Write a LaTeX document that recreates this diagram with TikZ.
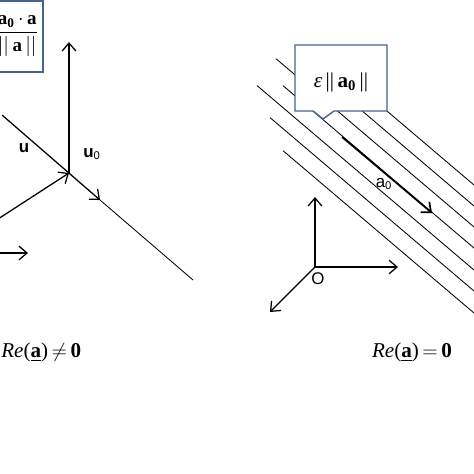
\documentclass[tikz,border=0pt]{standalone}
\usepackage{amsmath}
\usepackage{fontspec}
\setmainfont{Liberation Serif}
\setsansfont{Liberation Sans}
\usetikzlibrary{arrows.meta}
\definecolor{boxblue}{RGB}{70,100,140}
\newcommand{\bigtext}{\fontsize{15}{18}\selectfont}
\tikzset{
    vec/.style={-{Straight Barb[length=2mm,width=3.4mm]}, line width=0.9pt},
    thinline/.style={line width=0.6pt},
    callout/.style={draw=boxblue, line width=1pt, fill=white},
    lbl/.style={font=\sffamily\fontsize{12}{14}\selectfont}
}
\begin{document}
\begin{tikzpicture}[x=0.025cm, y=-0.025cm]
    \useasboundingbox (0,0) rectangle (474,474);
    \clip (0,0) rectangle (474,474);

    % left panel
    \coordinate (P) at (69,173);
    \coordinate (Ustart) at (2,115);
    \coordinate (Utip) at (100,200);
    \coordinate (Uend) at (193,280);
    \coordinate (Uzero) at (69,42);
    \coordinate (Oleft) at (-2,219);
    \coordinate (Xleft) at (-20,253);
    \coordinate (Xtip) at (28,253);
    \draw[thinline] (Utip) -- (Uend);
    \draw[vec] (Ustart) -- (Utip);
    \draw[vec] (P) -- (Uzero);
    \draw[vec] (Oleft) -- (P);
    \draw[vec] (Xleft) -- (Xtip);
    \node[lbl] (u) at (24,148) {\textbf{u}};
    \node[lbl] (uzero) at (92,154) {\textbf{u}$_{\textsf{0}}$};
    \draw[callout] (-60,1) rectangle (43,72);
    \node[anchor=east, inner sep=1pt] (frac) at (40,36)
        {\fontsize{13.5}{16}\selectfont $\dfrac{\textbf{a}_{\textbf{0}}\,{\cdot}\,\textbf{a}}{||\,\textbf{a}\,||}$};
    \node[anchor=west, inner sep=0pt] (reL) at (1,352) {\bigtext \textit{Re}(\underline{\textbf{a}})\,$\neq$\,\textbf{0}};

    % right panel: parallel lines, y at x=474 / start x
    \foreach \c/\s in {185/330, 206/300, 227/276, 248/283, 270/257, 291/270, 313/283} {
            \draw[thinline] (\s,{\c-(474-\s)*0.85}) -- (480,{\c+6*0.85});
        }
    \coordinate (Astart) at (342,137);
    \coordinate (Atip) at (432,213);
    \draw[vec, line width=1.2pt] (Astart) -- (Atip);
    \node[lbl] (azero) at (384,184) {a$_{\textsf{0}}$};

    \coordinate (O) at (315,267);
    \coordinate (Oup) at (315,197);
    \coordinate (Oright) at (398,267);
    \coordinate (Odiag) at (270,312);
    \draw[vec] (O) -- (Oup);
    \draw[vec] (O) -- (Oright);
    \draw[vec] (O) -- (Odiag);
    \node[lbl] (o) at (318,279) {O};

    \draw[callout] (295,45) -- (387,45) -- (387,111) -- (334,111)
        -- (323,119) -- (313,111) -- (295,111) -- cycle;
    \node (eps) at (341,82) {\bigtext \textit{ε}\,||\,\textbf{a}$_{\textbf{0}}$\,||};
    \node (reR) at (412,352) {\bigtext \textit{Re}(\underline{\textbf{a}})\,$=$\,\textbf{0}};
\end{tikzpicture}
\end{document}
